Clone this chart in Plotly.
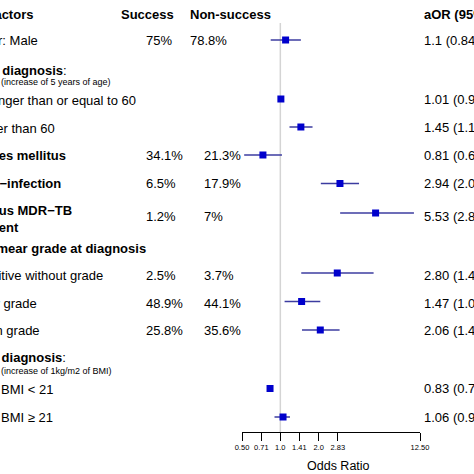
import math
import plotly.graph_objects as go

# ---------------- data ----------------
# forest rows (one per estimate)
fp_y = [40, 99, 127, 155, 183.5, 213, 273, 301.5, 330, 388.5, 417]
aor = [1.10, 1.01, 1.45, 0.73, 2.94, 5.60, 2.80, 1.47, 2.06, 0.83, 1.05]
ci_lo = [0.84, 0.96, 1.18, 0.52, 2.08, 2.95, 1.46, 1.08, 1.48, 0.79, 0.90]
ci_hi = [1.45, 1.06, 1.79, 1.03, 4.15, 11.2, 5.40, 2.06, 2.92, 0.87, 1.19]
aor_text = ["1.1 (0.84–1.45)", "1.01 (0.96–1.06)", "1.45 (1.18–1.79)",
            "0.81 (0.61–1.07)", "2.94 (2.07–4.17)", "5.53 (2.85–11.20)",
            "2.80 (1.47–5.40)", "1.47 (1.08–2.06)", "2.06 (1.45–2.92)",
            "0.83 (0.79–0.87)", "1.06 (0.93–1.20)"]
success = ["75%", "", "", "34.1%", "6.5%", "1.2%", "2.5%", "48.9%", "25.8%", "", ""]
non_success = ["78.8%", "", "", "21.3%", "17.9%", "7%", "3.7%", "44.1%", "35.6%", "", ""]
pct_y = [40, 99, 127, 155, 183.5, 216, 275, 303, 330, 388.5, 417]

# left column labels
left_text = ["Gender: Male", "<b>Age at diagnosis</b>:", "(increase of 5 years of age)",
             "Younger than or equal to 60", "Older than 60", "<b>Diabetes mellitus</b>",
             "<b>HIV co−infection</b>", "<b>Previous MDR−TB<br>treatment</b>",
             "<b>AFB smear grade at diagnosis</b>", "Positive without grade",
             "Low grade", "High grade", "<b>BMI at diagnosis</b>:",
             "(increase of 1kg/m2 of BMI)", "BMI < 21", "BMI ≥ 21"]
left_y = [40.5, 70, 82, 100.5, 128, 155, 183, 218.5, 248, 275, 303, 330, 357, 371, 389, 417]
left_indent = [-43, -43, -1, -26, -26, -43, -43, -43, -43, -26, -26, -26, -43, -1, -1, -1]
left_size = [13, 13, 9, 13, 13, 13, 13, 13, 13, 13, 13, 13, 13, 9, 13, 13]

headers = ["<b>Risk factors</b>", "<b>Success</b>", "<b>Non-success</b>", "<b>aOR (95% CI)</b>"]
header_x = [-43, 119, 188, 422]

tick_vals = [0.5, 0.71, 1.0, 1.41, 2.0, 2.83, 12.5]
tick_text = ["0.50", "0.71", "1.0", "1.41", "2.0", "2.83", "12.50"]

# ---------------- layout constants ----------------
W = H = 474
PL, PR, PT, PB = 242, 54, 0, 42
PW = W - PL - PR
PH = H - PT - PB
FONT = "Liberation Sans, Arial, sans-serif"


def px(xpix):
    return (xpix - PL) / PW


fig = go.Figure()

fig.add_trace(go.Scatter(
    x=aor, y=fp_y, mode="markers",
    marker=dict(symbol="square", size=7, color="#0000cc", line=dict(width=0)),
    error_x=dict(type="data", symmetric=False,
                 array=[h - o for h, o in zip(ci_hi, aor)],
                 arrayminus=[o - l for o, l in zip(aor, ci_lo)],
                 width=0, thickness=1.5, color="#3c3ca0"),
    hoverinfo="skip", showlegend=False, cliponaxis=False,
))

fig.add_shape(type="line", xref="x", yref="y", x0=1, x1=1, y0=23, y1=PH,
              line=dict(color="#d4d4d4", width=1.5), layer="below")

ann = []
for t, xx in zip(headers, header_x):
    ann.append(dict(text=t, x=px(xx), y=14, xref="paper", yref="y",
                    xanchor="left", yanchor="middle", showarrow=False,
                    font=dict(size=13, color="black", family=FONT)))
for t, yy, xx, fs in zip(left_text, left_y, left_indent, left_size):
    ann.append(dict(text=t, x=px(xx), y=yy, xref="paper", yref="y",
                    xanchor="left", yanchor="middle", align="left", showarrow=False,
                    font=dict(size=fs, color="black", family=FONT)))
for i, (s, n, yy, a) in enumerate(zip(success, non_success, pct_y, aor_text)):
    if s:
        ann.append(dict(text=s, x=px(144), y=yy, xref="paper", yref="y",
                        xanchor="left", yanchor="middle", showarrow=False,
                        font=dict(size=13, color="black", family=FONT)))
    if n:
        nx = 188 if i == 0 else 202
        ann.append(dict(text=n, x=px(nx), y=yy, xref="paper", yref="y",
                        xanchor="left", yanchor="middle", showarrow=False,
                        font=dict(size=13, color="black", family=FONT)))
    ann.append(dict(text=a, x=px(422), y=yy, xref="paper", yref="y",
                    xanchor="left", yanchor="middle", showarrow=False,
                    font=dict(size=13, color="black", family=FONT)))

ann.append(dict(text="Odds Ratio", x=px(338), y=-(466 - PH) / PH, xref="paper", yref="paper",
                xanchor="center", yanchor="middle", showarrow=False,
                font=dict(size=12.5, color="black", family=FONT)))

fig.update_layout(
    width=W, height=H,
    margin=dict(l=PL, r=PR, t=PT, b=PB, pad=0),
    paper_bgcolor="white", plot_bgcolor="white",
    annotations=ann,
    xaxis=dict(type="log", range=[math.log10(0.5), math.log10(12.5)],
               tickvals=tick_vals, ticktext=tick_text,
               showline=True, linecolor="black", linewidth=1,
               ticks="outside", ticklen=8, tickwidth=1, tickcolor="black",
               showgrid=False, zeroline=False,
               tickfont=dict(size=7.5, color="black", family=FONT)),
    yaxis=dict(range=[PH, 0], showline=False, showticklabels=False,
               ticks="", showgrid=False, zeroline=False),
)

fig.write_html("out.html")
